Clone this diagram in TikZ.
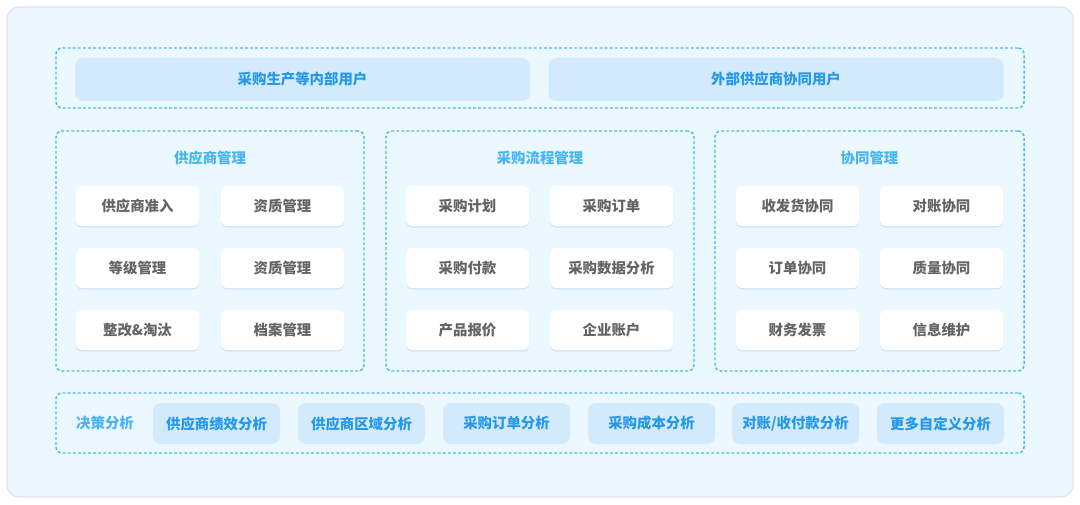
\documentclass[tikz,border=0pt]{standalone}
\usepackage{fontspec}
\setmainfont{Noto Sans CJK SC}
\usetikzlibrary{positioning}
\definecolor{panelbg}{HTML}{ECF8FF}
\definecolor{panelline}{HTML}{E3E2F1}
\definecolor{dashblue}{HTML}{4CB8F2}
\definecolor{titleblue}{HTML}{48B4F2}
\definecolor{barfill}{HTML}{D3EAFD}
\definecolor{bartext}{HTML}{2598EA}
\definecolor{cardtext}{HTML}{646464}
\definecolor{cardshadow}{HTML}{D6E6FA}

\tikzset{
  panel/.style={draw=panelline,line width=0.9pt,fill=panelbg,rounded corners=9pt,
    minimum width=799.5pt,minimum height=367.5pt},
  groupbox/.style={draw=dashblue,line width=1.1pt,dash pattern=on 2.2pt off 1.6pt,
    rounded corners=4.5pt,inner sep=0pt},
  grouptitle/.style={text=titleblue,font=\bfseries\fontsize{10.8}{12}\selectfont,inner sep=0pt},
  bar/.style={fill=barfill,rounded corners=6pt,text=bartext,
    font=\bfseries\fontsize{10.8}{12}\selectfont,minimum width=341.25pt,minimum height=32.25pt},
  card/.style={fill=white,rounded corners=4.5pt,text=cardtext,
    font=\bfseries\fontsize{10.8}{12}\selectfont,minimum width=92.25pt,minimum height=30pt,
    preaction={fill=cardshadow,transform canvas={yshift=-1.2pt}}},
  pill/.style={fill=barfill,rounded corners=6pt,text=bartext,
    font=\bfseries\fontsize{10.8}{12}\selectfont,minimum width=95.25pt,minimum height=30.75pt}
}

\begin{document}
\begin{tikzpicture}[x=0.75pt,y=-0.75pt]
  \useasboundingbox (0,0) rectangle (1080,505);
  \node[panel] (panel) at (540,252) {};

  % users
  \node[groupbox,minimum width=726pt,minimum height=45pt] (users) at (540,78) {};
  \node[bar] (inner) at (302.5,79.5) {采购生产等内部用户};
  \node[bar] (outer) at (776,79.5) {外部供应商协同用户};

  % supplier management
  \node[groupbox,minimum width=231pt,minimum height=180pt] (supplier) at (210,251) {};
  \node[grouptitle] (suppliertitle) at (210,158) {供应商管理};
  \node[card] (admit) at (137.5,206) {供应商准入};
  \node[card] (quala) at (282.5,206) {资质管理};
  \node[card] (grade) at (137.5,268) {等级管理};
  \node[card] (qualb) at (282.5,268) {资质管理};
  \node[card] (rectify) at (137.5,330) {整改\&淘汰};
  \node[card] (archive) at (282.5,330) {档案管理};

  % purchase flow management
  \node[groupbox,minimum width=231pt,minimum height=180pt] (flow) at (540,251) {};
  \node[grouptitle] (flowtitle) at (540,158) {采购流程管理};
  \node[card] (plan) at (467.5,206) {采购计划};
  \node[card] (order) at (611.5,206) {采购订单};
  \node[card] (payment) at (467.5,268) {采购付款};
  \node[card] (dataan) at (611.5,268) {采购数据分析};
  \node[card] (quote) at (467.5,330) {产品报价};
  \node[card] (account) at (611.5,330) {企业账户};

  % collaboration management
  \node[groupbox,minimum width=231.75pt,minimum height=180pt] (collab) at (869.5,251) {};
  \node[grouptitle] (collabtitle) at (869.5,158) {协同管理};
  \node[card] (delivery) at (797.5,206) {收发货协同};
  \node[card] (reconcile) at (941.5,206) {对账协同};
  \node[card] (ordercol) at (797.5,268) {订单协同};
  \node[card] (qualitycol) at (941.5,268) {质量协同};
  \node[card] (invoice) at (797.5,330) {财务发票};
  \node[card] (infocare) at (941.5,330) {信息维护};

  % decision analysis
  \node[groupbox,minimum width=726pt,minimum height=45pt] (decision) at (540,423) {};
  \node[grouptitle] (decisiontitle) at (105,423) {决策分析};
  \node[pill] (perf) at (216.5,423.5) {供应商绩效分析};
  \node[pill] (region) at (361.5,423.5) {供应商区域分析};
  \node[pill] (ordan) at (506.5,423.5) {采购订单分析};
  \node[pill] (cost) at (651.5,423.5) {采购成本分析};
  \node[pill] (recpay) at (795.5,423.5) {对账/收付款分析};
  \node[pill] (custom) at (940.5,423.5) {更多自定义分析};
\end{tikzpicture}
\end{document}
